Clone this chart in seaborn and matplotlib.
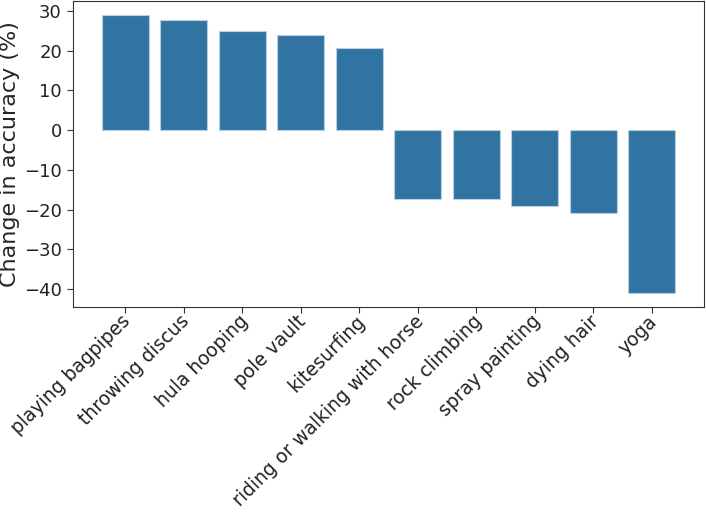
import matplotlib
matplotlib.use('Agg')
import matplotlib.pyplot as plt
import matplotlib.transforms as mtransforms
import pandas as pd
import seaborn as sns

# Values
actions = [
   'playing bagpipes', 'throwing discus', 'hula hooping', 'pole vault',
   'kitesurfing', 'riding or walking with horse', 'rock climbing',
   'spray painting', 'dying hair', 'yoga']
change = [29.0, 27.8, 24.9, 23.9, 20.7, -17.4, -17.4, -19.1, -20.9, -41.0]

df = pd.DataFrame({'action': actions, 'change': change})

sns.set_style('ticks')
plt.rcParams['font.family'] = ['DejaVu Sans']

fig = plt.figure(figsize=(7.06, 5.13), dpi=100)
ax = fig.add_axes([73 / 706, 1 - 307 / 513, (704 - 73) / 706, 306 / 513])

sns.barplot(
   ax = ax,
   data = df,
   x = 'action',
   y = 'change',
   color = '#1f77b4',
   width = 0.8,
   edgecolor = '#b8d0e4',
   linewidth = 0.8)

ax.set_xlim(-0.89, len(actions) - 1 + 0.89)
lo, hi = min(change), max(change)
pad = (hi - lo) * 0.05
ax.set_ylim(lo - pad, hi + pad)
ax.set_yticks(range(-40, 31, 10))

for side in ['top', 'right', 'left', 'bottom']:
   ax.spines[side].set_visible(True)
   ax.spines[side].set_color('#333333')

ax.tick_params(axis = 'both', length = 4.5, color = '#333333', labelcolor = '#222222')
ax.tick_params(axis = 'y', labelsize = 13)
ax.tick_params(axis = 'x', labelsize = 13.5, pad = 1)
ax.set_xlabel('')
ax.set_ylabel('Change in accuracy (%)', fontsize = 16, labelpad = 3)

# nudge the rotated labels up-left a little, as in the reference
shift = mtransforms.ScaledTranslation(-4 / 100, 3 / 100, fig.dpi_scale_trans)
for lab in ax.get_xticklabels():
   lab.set_rotation(45)
   lab.set_ha('right')
   lab.set_rotation_mode('anchor')
   lab.set_transform(lab.get_transform() + shift)

fig.savefig('out.png', dpi = 100)
